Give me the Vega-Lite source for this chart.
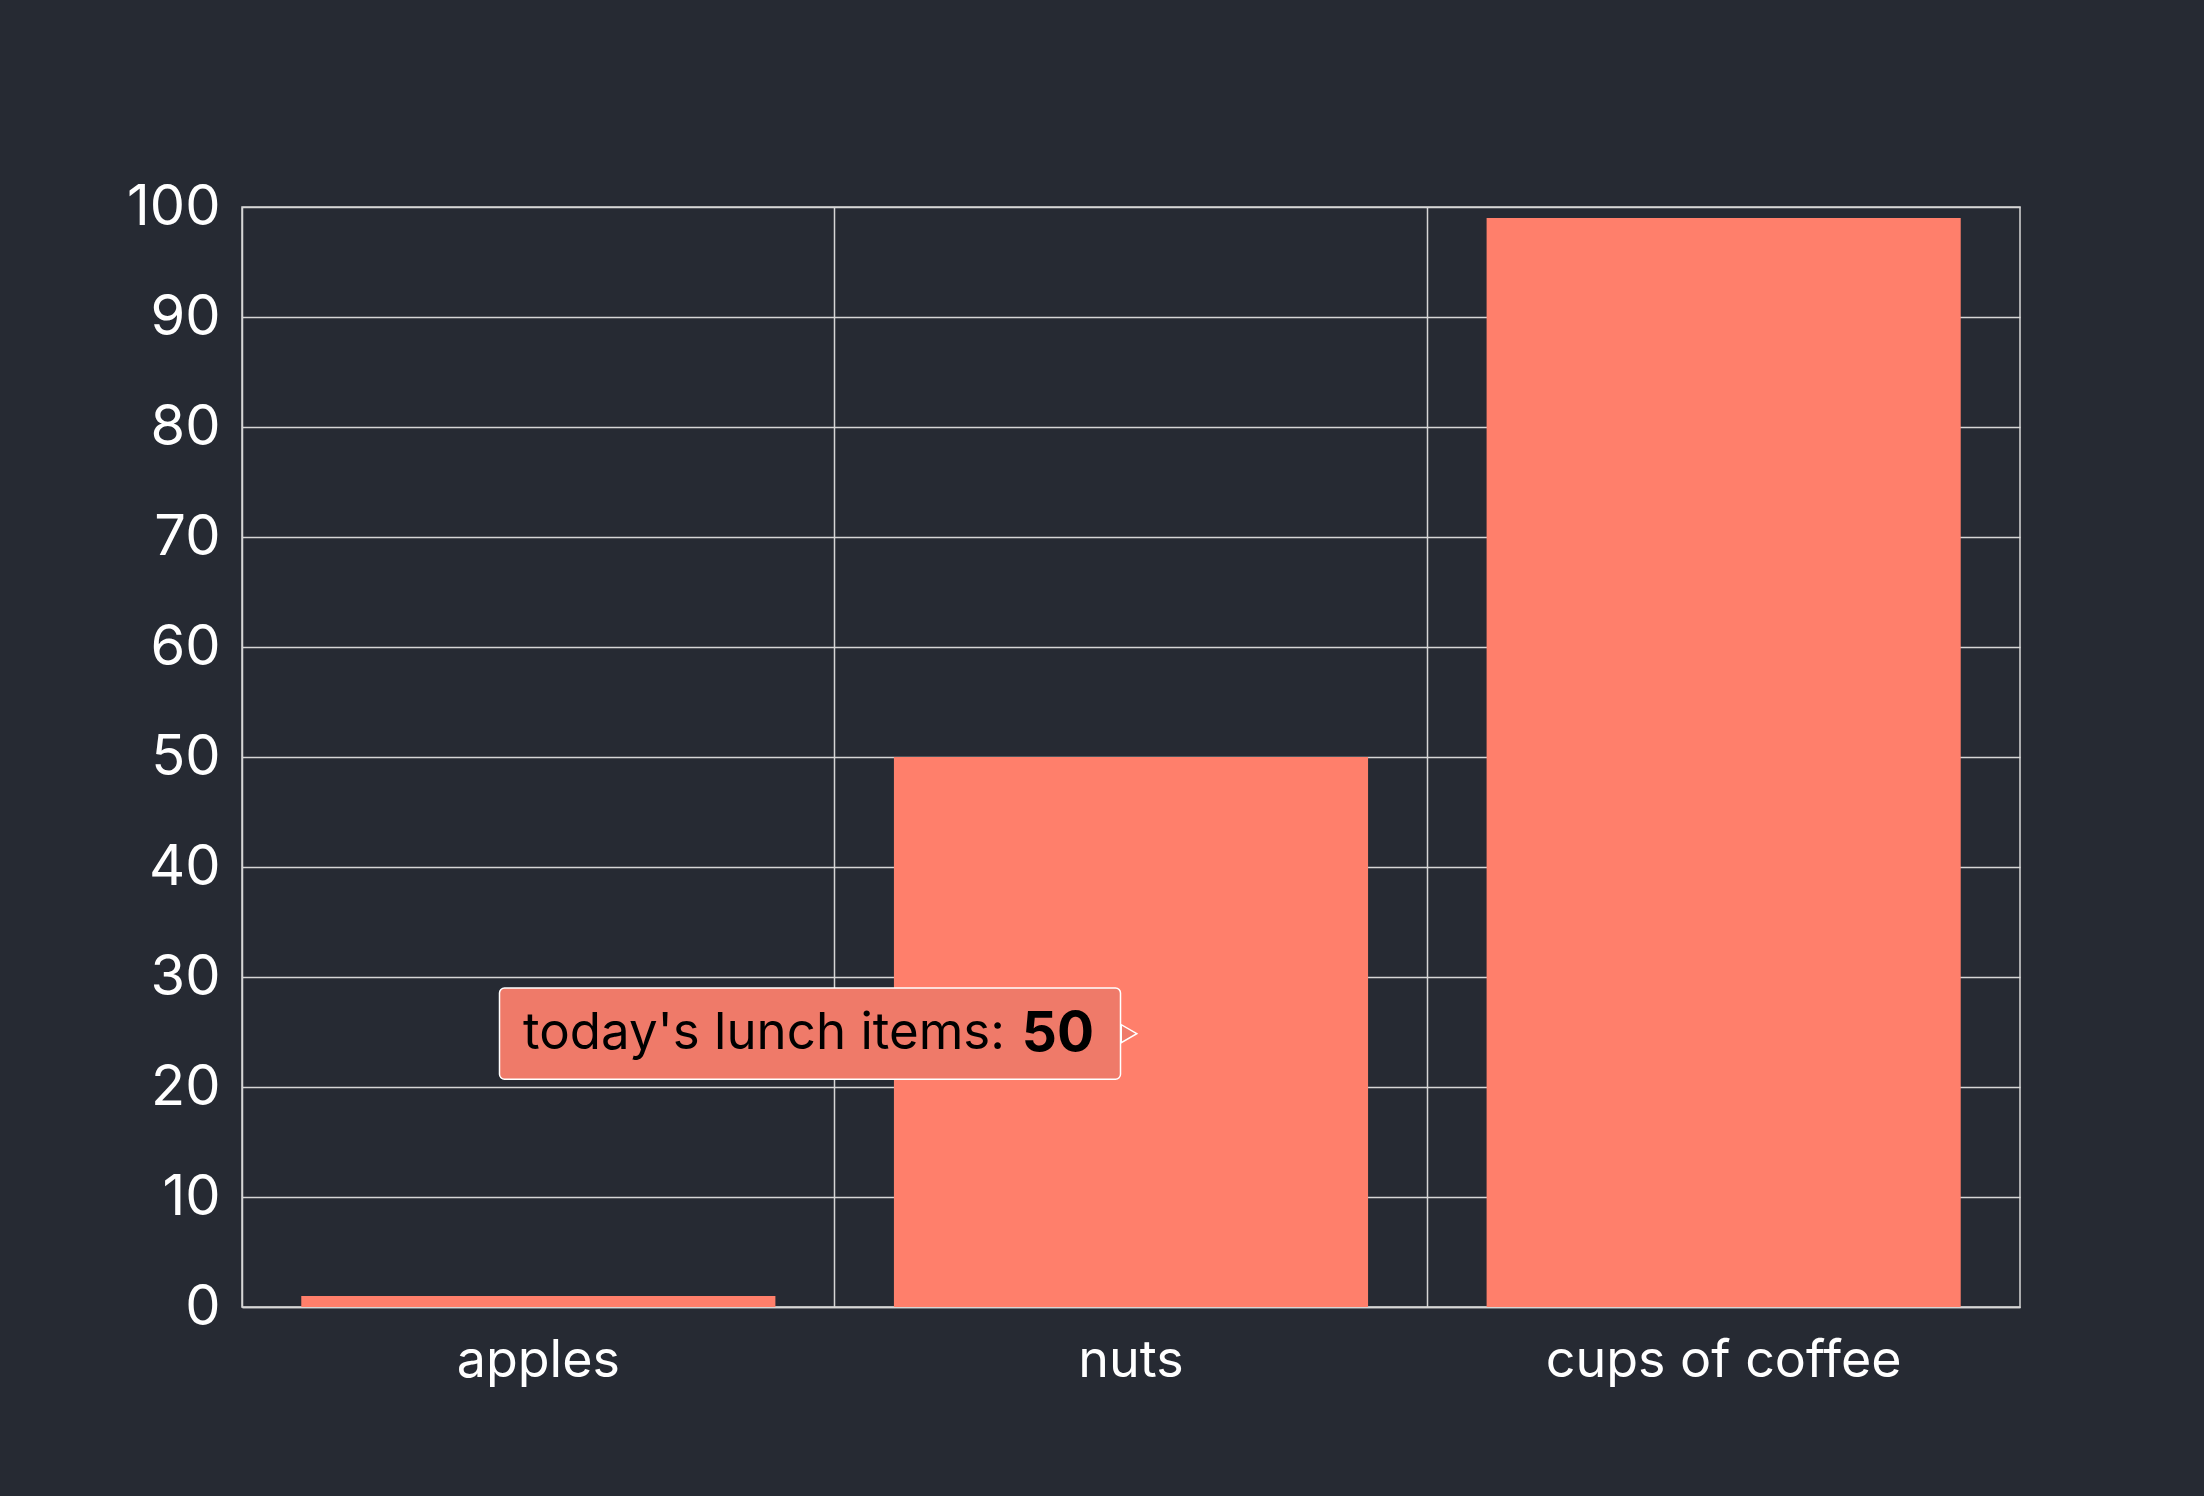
{
  "$schema": "https://vega.github.io/schema/vega-lite/v6.json",
  "width": 1778,
  "height": 1100,
  "autosize": {"type": "none"},
  "padding": {"left": 242, "top": 207, "right": 184, "bottom": 189},
  "background": "#262a33",
  "config": {
    "view": {"stroke": "#d6d6d6", "strokeWidth": 1.5},
    "font": "Inter",
    "axis": {"labelFont": "Inter", "labelColor": "#ffffff", "gridColor": "#d6d6d6", "gridWidth": 1.5, "gridOpacity": 1, "domainColor": "#d6d6d6", "domainWidth": 1.5, "ticks": false, "title": null}
  },
  "datasets": {
    "lunch": [
      {"item": "apples", "value": 1},
      {"item": "nuts", "value": 50},
      {"item": "cups of coffee", "value": 99}
    ],
    "tip": [
      {"item": "nuts", "low": 20.7, "high": 29, "mid": 24.85, "label": "today's lunch items:", "num": "50"}
    ]
  },
  "encoding": {
    "x": {"field": "item", "type": "nominal",
          "scale": {"domain": ["apples", "nuts", "cups of coffee"], "paddingInner": 0.2, "paddingOuter": 0.1},
          "axis": {"labelAngle": 0, "labelFontSize": 52, "labelPadding": 28, "labelLimit": 0, "grid": true, "bandPosition": -0.125, "domain": true}}
  },
  "layer": [
    {
      "data": {"name": "lunch"},
      "mark": {"type": "bar", "color": "#ff7f6b"},
      "encoding": {
        "y": {"field": "value", "type": "quantitative",
              "scale": {"domain": [0, 100], "nice": false},
              "axis": {"values": [0,10,20,30,40,50,60,70,80,90,100], "labelFontSize": 56, "labelPadding": 22, "domain": false, "grid": true}}
      }
    },
    {
      "data": {"name": "tip"},
      "mark": {"type": "point", "shape": "triangle-right", "filled": true, "color": "#ef7a69", "stroke": "#ffffff", "strokeWidth": 1.5, "opacity": 1, "size": 320, "xOffset": -2},
      "encoding": {
        "y": {"field": "mid", "type": "quantitative"}
      }
    },
    {
      "data": {"name": "tip"},
      "mark": {"type": "bar", "color": "#ef7a69", "opacity": 1, "stroke": "#ffffff", "strokeWidth": 1.5, "cornerRadius": 5, "width": 621, "xOffset": -321},
      "encoding": {
        "y": {"field": "low", "type": "quantitative"},
        "y2": {"field": "high"}
      }
    },
    {
      "data": {"name": "tip"},
      "mark": {"type": "text", "align": "left", "baseline": "middle", "fontSize": 51, "color": "#000000", "font": "Inter", "dx": -608},
      "encoding": {
        "y": {"field": "mid", "type": "quantitative"},
        "text": {"field": "label"}
      }
    },
    {
      "data": {"name": "tip"},
      "mark": {"type": "text", "align": "right", "baseline": "middle", "fontSize": 55, "fontWeight": "bold", "color": "#000000", "font": "Inter", "dx": -37},
      "encoding": {
        "y": {"field": "mid", "type": "quantitative"},
        "text": {"field": "num"}
      }
    }
  ]
}
